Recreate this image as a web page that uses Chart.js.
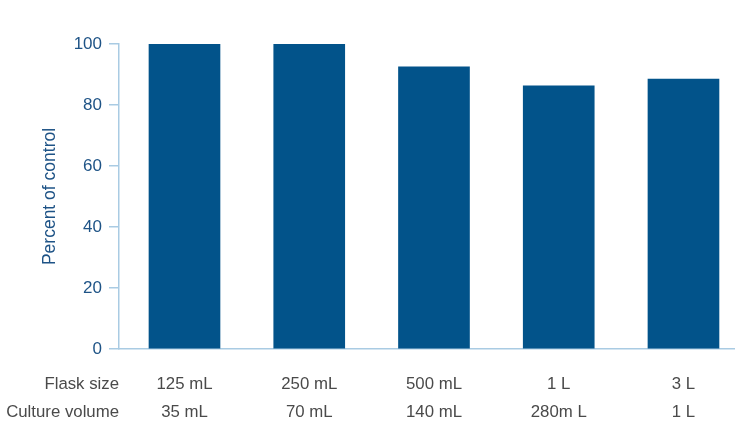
<!DOCTYPE html>
<html>
<head>
<meta charset="utf-8">
<script src="https://cdn.jsdelivr.net/npm/chart.js@4/dist/chart.umd.min.js"></script>
<style>
  html, body { margin: 0; padding: 0; background: #ffffff; }
  #wrap { width: 740px; height: 438px; }
</style>
</head>
<body>
<div id="wrap"><canvas id="c" width="740" height="438"></canvas></div>
<script>
const flaskSizes = ["125 mL", "250 mL", "500 mL", "1 L", "3 L"];
const cultureVolumes = ["35 mL", "70 mL", "140 mL", "280m L", "1 L"];
const percentOfControl = [100, 100, 92.5, 86.3, 88.5];
const rowTitles = ["Flask size", "Culture volume"];
const yTickValues = [0, 20, 40, 60, 80, 100];
const yAxisTitle = "Percent of control";

const FONT = "'Liberation Sans', Arial, Helvetica, sans-serif";
const BAR = "#02538A";
const AXIS = "#A9CBE3";
const BLUE_TEXT = "#1E5386";
const GRAY_TEXT = "#4A4A4A";
const LABEL_SIZE = 16.8;
const LABEL_LH = 28;
const LABEL_PAD = 21;

const rowTitlePlugin = {
  id: 'rowTitles',
  afterDraw(chart) {
    const xs = chart.scales.x;
    const ys = chart.scales.y;
    const ctx = chart.ctx;
    ctx.save();
    ctx.font = LABEL_SIZE + "px " + FONT;
    ctx.fillStyle = GRAY_TEXT;
    ctx.textAlign = "right";
    ctx.textBaseline = "middle";
    rowTitles.forEach((t, i) => {
      const y = xs.top + LABEL_PAD + LABEL_LH * (i + 0.5);
      ctx.fillText(t, ys.right, y);
    });
    ctx.restore();
  }
};

new Chart(document.getElementById('c'), {
  type: 'bar',
  data: {
    datasets: [{
      data: percentOfControl.map((v, i) => ({ x: i, y: v })),
      backgroundColor: BAR,
      borderWidth: 0,
      barThickness: 71
    }]
  },
  options: {
    responsive: false,
    animation: false,
    layout: { padding: { top: 44, right: 6, left: 0, bottom: 0 } },
    plugins: { legend: { display: false }, tooltip: { enabled: false } },
    scales: {
      x: {
        type: 'linear',
        offset: false,
        bounds: 'data',
        min: -0.525,
        max: 4.405,
        afterBuildTicks(scale) {
          scale.ticks = flaskSizes.map((_, i) => ({ value: i }));
        },
        afterFit(scale) { scale.height = 438 - 349; },
        grid: { display: false, drawTicks: false, offset: false },
        border: { display: true, color: AXIS, width: 1.5 },
        ticks: {
          autoSkip: false,
          maxRotation: 0,
          padding: LABEL_PAD,
          color: GRAY_TEXT,
          font: { family: FONT, size: LABEL_SIZE, lineHeight: LABEL_LH / LABEL_SIZE },
          callback: (v) => [flaskSizes[v], cultureVolumes[v]]
        }
      },
      y: {
        min: 0,
        max: 100,
        afterBuildTicks(scale) {
          scale.ticks = yTickValues.map(v => ({ value: v }));
        },
        afterFit(scale) { scale.width = 119; },
        grid: { display: true, drawOnChartArea: false, drawTicks: true, tickLength: 10, color: AXIS, lineWidth: 1.5 },
        border: { display: true, color: AXIS, width: 1.5 },
        ticks: {
          padding: 7,
          color: BLUE_TEXT,
          font: { family: FONT, size: 17 }
        },
        title: {
          display: true,
          text: yAxisTitle,
          color: BLUE_TEXT,
          font: { family: FONT, size: 17.5 },
          padding: { top: 40, bottom: 0 }
        }
      }
    }
  },
  plugins: [rowTitlePlugin]
});
</script>
</body>
</html>
